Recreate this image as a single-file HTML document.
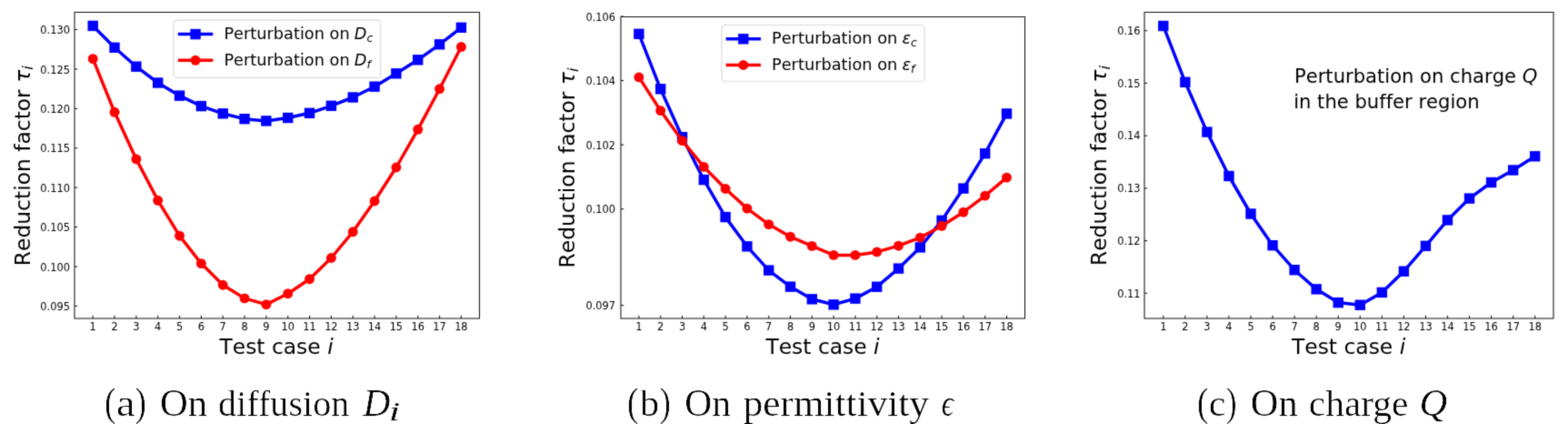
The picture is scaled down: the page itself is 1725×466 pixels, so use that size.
<!DOCTYPE html>
<html><head><meta charset="utf-8"><title>Reduction factor plots</title>
<style>html,body{margin:0;padding:0;background:#fff;}body{width:1725px;height:466px;overflow:hidden;}svg{display:block;}</style>
</head><body>
<svg font-family="'DejaVu Sans', 'Liberation Sans', sans-serif" style="font-variant-ligatures:none;font-kerning:none" width="1725" height="466" viewBox="0 0 1725 466">
<rect x="0" y="0" width="1725" height="466" fill="#ffffff"/>
<defs><filter id="soft" x="0" y="0" width="1725" height="466" filterUnits="userSpaceOnUse" color-interpolation-filters="sRGB"><feConvolveMatrix order="3" kernelMatrix="0.0225 0.1050 0.0225 0.1050 0.4900 0.1050 0.0225 0.1050 0.0225" divisor="1" edgeMode="duplicate"/></filter></defs>
<g filter="url(#soft)">
<g>
<polyline points="102.2,28.4 126.03,52.3 149.87,73.2 173.7,91 197.54,105.15 221.38,116.6 245.21,124.8 269.05,130.7 292.88,132.9 316.72,129.5 340.55,124.3 364.38,116.3 388.22,107 412.06,95.2 435.89,80.8 459.73,65.8 483.56,48.8 507.39,30.3" fill="none" stroke="#0000ff" stroke-width="3.5" stroke-linejoin="round" stroke-linecap="butt"/>
<rect x="96.5" y="22.7" width="11.4" height="11.4" fill="#0000ff"/>
<rect x="120.33" y="46.6" width="11.4" height="11.4" fill="#0000ff"/>
<rect x="144.17" y="67.5" width="11.4" height="11.4" fill="#0000ff"/>
<rect x="168" y="85.3" width="11.4" height="11.4" fill="#0000ff"/>
<rect x="191.84" y="99.45" width="11.4" height="11.4" fill="#0000ff"/>
<rect x="215.68" y="110.9" width="11.4" height="11.4" fill="#0000ff"/>
<rect x="239.51" y="119.1" width="11.4" height="11.4" fill="#0000ff"/>
<rect x="263.35" y="125" width="11.4" height="11.4" fill="#0000ff"/>
<rect x="287.18" y="127.2" width="11.4" height="11.4" fill="#0000ff"/>
<rect x="311.02" y="123.8" width="11.4" height="11.4" fill="#0000ff"/>
<rect x="334.85" y="118.6" width="11.4" height="11.4" fill="#0000ff"/>
<rect x="358.69" y="110.6" width="11.4" height="11.4" fill="#0000ff"/>
<rect x="382.52" y="101.3" width="11.4" height="11.4" fill="#0000ff"/>
<rect x="406.36" y="89.5" width="11.4" height="11.4" fill="#0000ff"/>
<rect x="430.19" y="75.1" width="11.4" height="11.4" fill="#0000ff"/>
<rect x="454.03" y="60.1" width="11.4" height="11.4" fill="#0000ff"/>
<rect x="477.86" y="43.1" width="11.4" height="11.4" fill="#0000ff"/>
<rect x="501.69" y="24.6" width="11.4" height="11.4" fill="#0000ff"/>
<polyline points="102.2,64.7 126.03,123.3 149.87,174.9 173.7,220.3 197.54,259.2 221.38,289.6 245.21,313.25 269.05,327.9 292.88,334.6 316.72,322.7 340.55,306.7 364.38,283.5 388.22,254.8 412.06,221 435.89,184 459.73,142.3 483.56,97.75 507.39,51.55" fill="none" stroke="#ff0000" stroke-width="3.5" stroke-linejoin="round" stroke-linecap="butt"/>
<circle cx="102.2" cy="64.7" r="5.45" fill="#ff0000"/>
<circle cx="126.03" cy="123.3" r="5.45" fill="#ff0000"/>
<circle cx="149.87" cy="174.9" r="5.45" fill="#ff0000"/>
<circle cx="173.7" cy="220.3" r="5.45" fill="#ff0000"/>
<circle cx="197.54" cy="259.2" r="5.45" fill="#ff0000"/>
<circle cx="221.38" cy="289.6" r="5.45" fill="#ff0000"/>
<circle cx="245.21" cy="313.25" r="5.45" fill="#ff0000"/>
<circle cx="269.05" cy="327.9" r="5.45" fill="#ff0000"/>
<circle cx="292.88" cy="334.6" r="5.45" fill="#ff0000"/>
<circle cx="316.72" cy="322.7" r="5.45" fill="#ff0000"/>
<circle cx="340.55" cy="306.7" r="5.45" fill="#ff0000"/>
<circle cx="364.38" cy="283.5" r="5.45" fill="#ff0000"/>
<circle cx="388.22" cy="254.8" r="5.45" fill="#ff0000"/>
<circle cx="412.06" cy="221" r="5.45" fill="#ff0000"/>
<circle cx="435.89" cy="184" r="5.45" fill="#ff0000"/>
<circle cx="459.73" cy="142.3" r="5.45" fill="#ff0000"/>
<circle cx="483.56" cy="97.75" r="5.45" fill="#ff0000"/>
<circle cx="507.39" cy="51.55" r="5.45" fill="#ff0000"/>
<path d="M82 13.5V350H527.5V13.5Z" fill="none" stroke="#111" stroke-width="1.05" stroke-linecap="square"/>
<line x1="102.2" y1="350" x2="102.2" y2="346.8" stroke="#1a1a1a" stroke-width="1.1"/>
<text x="102.2" y="362.7" font-size="11.4" text-anchor="middle" fill="#000000">1</text>
<line x1="126.03" y1="350" x2="126.03" y2="346.8" stroke="#1a1a1a" stroke-width="1.1"/>
<text x="126.03" y="362.7" font-size="11.4" text-anchor="middle" fill="#000000">2</text>
<line x1="149.87" y1="350" x2="149.87" y2="346.8" stroke="#1a1a1a" stroke-width="1.1"/>
<text x="149.87" y="362.7" font-size="11.4" text-anchor="middle" fill="#000000">3</text>
<line x1="173.7" y1="350" x2="173.7" y2="346.8" stroke="#1a1a1a" stroke-width="1.1"/>
<text x="173.7" y="362.7" font-size="11.4" text-anchor="middle" fill="#000000">4</text>
<line x1="197.54" y1="350" x2="197.54" y2="346.8" stroke="#1a1a1a" stroke-width="1.1"/>
<text x="197.54" y="362.7" font-size="11.4" text-anchor="middle" fill="#000000">5</text>
<line x1="221.38" y1="350" x2="221.38" y2="346.8" stroke="#1a1a1a" stroke-width="1.1"/>
<text x="221.38" y="362.7" font-size="11.4" text-anchor="middle" fill="#000000">6</text>
<line x1="245.21" y1="350" x2="245.21" y2="346.8" stroke="#1a1a1a" stroke-width="1.1"/>
<text x="245.21" y="362.7" font-size="11.4" text-anchor="middle" fill="#000000">7</text>
<line x1="269.05" y1="350" x2="269.05" y2="346.8" stroke="#1a1a1a" stroke-width="1.1"/>
<text x="269.05" y="362.7" font-size="11.4" text-anchor="middle" fill="#000000">8</text>
<line x1="292.88" y1="350" x2="292.88" y2="346.8" stroke="#1a1a1a" stroke-width="1.1"/>
<text x="292.88" y="362.7" font-size="11.4" text-anchor="middle" fill="#000000">9</text>
<line x1="316.72" y1="350" x2="316.72" y2="346.8" stroke="#1a1a1a" stroke-width="1.1"/>
<text x="316.72" y="362.7" font-size="11.4" text-anchor="middle" fill="#000000">10</text>
<line x1="340.55" y1="350" x2="340.55" y2="346.8" stroke="#1a1a1a" stroke-width="1.1"/>
<text x="340.55" y="362.7" font-size="11.4" text-anchor="middle" fill="#000000">11</text>
<line x1="364.38" y1="350" x2="364.38" y2="346.8" stroke="#1a1a1a" stroke-width="1.1"/>
<text x="364.38" y="362.7" font-size="11.4" text-anchor="middle" fill="#000000">12</text>
<line x1="388.22" y1="350" x2="388.22" y2="346.8" stroke="#1a1a1a" stroke-width="1.1"/>
<text x="388.22" y="362.7" font-size="11.4" text-anchor="middle" fill="#000000">13</text>
<line x1="412.06" y1="350" x2="412.06" y2="346.8" stroke="#1a1a1a" stroke-width="1.1"/>
<text x="412.06" y="362.7" font-size="11.4" text-anchor="middle" fill="#000000">14</text>
<line x1="435.89" y1="350" x2="435.89" y2="346.8" stroke="#1a1a1a" stroke-width="1.1"/>
<text x="435.89" y="362.7" font-size="11.4" text-anchor="middle" fill="#000000">15</text>
<line x1="459.73" y1="350" x2="459.73" y2="346.8" stroke="#1a1a1a" stroke-width="1.1"/>
<text x="459.73" y="362.7" font-size="11.4" text-anchor="middle" fill="#000000">16</text>
<line x1="483.56" y1="350" x2="483.56" y2="346.8" stroke="#1a1a1a" stroke-width="1.1"/>
<text x="483.56" y="362.7" font-size="11.4" text-anchor="middle" fill="#000000">17</text>
<line x1="507.39" y1="350" x2="507.39" y2="346.8" stroke="#1a1a1a" stroke-width="1.1"/>
<text x="507.39" y="362.7" font-size="11.4" text-anchor="middle" fill="#000000">18</text>
<line x1="82" y1="336.37" x2="85.2" y2="336.37" stroke="#1a1a1a" stroke-width="1.1"/>
<text x="76.9" y="340.97" font-size="11.4" text-anchor="end" fill="#000000">0.095</text>
<line x1="82" y1="292.96" x2="85.2" y2="292.96" stroke="#1a1a1a" stroke-width="1.1"/>
<text x="76.9" y="297.56" font-size="11.4" text-anchor="end" fill="#000000">0.100</text>
<line x1="82" y1="249.55" x2="85.2" y2="249.55" stroke="#1a1a1a" stroke-width="1.1"/>
<text x="76.9" y="254.15" font-size="11.4" text-anchor="end" fill="#000000">0.105</text>
<line x1="82" y1="206.14" x2="85.2" y2="206.14" stroke="#1a1a1a" stroke-width="1.1"/>
<text x="76.9" y="210.74" font-size="11.4" text-anchor="end" fill="#000000">0.110</text>
<line x1="82" y1="162.73" x2="85.2" y2="162.73" stroke="#1a1a1a" stroke-width="1.1"/>
<text x="76.9" y="167.33" font-size="11.4" text-anchor="end" fill="#000000">0.115</text>
<line x1="82" y1="119.32" x2="85.2" y2="119.32" stroke="#1a1a1a" stroke-width="1.1"/>
<text x="76.9" y="123.92" font-size="11.4" text-anchor="end" fill="#000000">0.120</text>
<line x1="82" y1="75.91" x2="85.2" y2="75.91" stroke="#1a1a1a" stroke-width="1.1"/>
<text x="76.9" y="80.51" font-size="11.4" text-anchor="end" fill="#000000">0.125</text>
<line x1="82" y1="32.5" x2="85.2" y2="32.5" stroke="#1a1a1a" stroke-width="1.1"/>
<text x="76.9" y="37.1" font-size="11.4" text-anchor="end" fill="#000000">0.130</text>
<text x="304.05" y="388.8" font-size="23.4" text-anchor="middle" fill="#000">Test case <tspan font-style="italic">i</tspan></text>
<text transform="translate(32.6,182.2) rotate(-90)" font-size="23.4" text-anchor="middle" fill="#000">Reduction factor <tspan font-style="italic">τ</tspan><tspan font-style="italic" font-size="16.38" dy="3.5">i</tspan></text>
<rect x="190.95" y="22.15" width="227.85" height="63.25" rx="3.8" ry="3.8" fill="#ffffff" fill-opacity="0.8" stroke="#d9d9d9" stroke-width="1.2"/>
<line x1="195.8" y1="37.6" x2="234.3" y2="37.6" stroke="#0000ff" stroke-width="3.5"/>
<rect x="209.35" y="31.9" width="11.4" height="11.4" fill="#0000ff"/>
<text x="246.4" y="43.3" font-size="17.75" fill="#000000">Perturbation on <tspan font-style="italic" dx="-0.5">D</tspan><tspan font-style="italic" font-size="12.42" dy="3">c</tspan></text>
<line x1="195.8" y1="66.3" x2="234.3" y2="66.3" stroke="#ff0000" stroke-width="3.5"/>
<circle cx="215.05" cy="66.3" r="5.45" fill="#ff0000"/>
<text x="246.4" y="72" font-size="17.75" fill="#000000">Perturbation on <tspan font-style="italic" dx="-0.5">D</tspan><tspan font-style="italic" font-size="12.42" dy="3">f</tspan></text>
</g>
<g>
<polyline points="702.9,37.3 726.7,97.8 750.5,150.7 774.3,197.6 798.1,238.6 821.9,270.8 845.7,297.1 869.5,315.1 893.3,328.8 917.1,334.8 940.9,328.1 964.7,315.2 988.5,295.1 1012.3,271.9 1036.1,242.3 1059.9,207.1 1083.7,168.7 1107.5,124.9" fill="none" stroke="#0000ff" stroke-width="3.5" stroke-linejoin="round" stroke-linecap="butt"/>
<rect x="697.2" y="31.6" width="11.4" height="11.4" fill="#0000ff"/>
<rect x="721" y="92.1" width="11.4" height="11.4" fill="#0000ff"/>
<rect x="744.8" y="145" width="11.4" height="11.4" fill="#0000ff"/>
<rect x="768.6" y="191.9" width="11.4" height="11.4" fill="#0000ff"/>
<rect x="792.4" y="232.9" width="11.4" height="11.4" fill="#0000ff"/>
<rect x="816.2" y="265.1" width="11.4" height="11.4" fill="#0000ff"/>
<rect x="840" y="291.4" width="11.4" height="11.4" fill="#0000ff"/>
<rect x="863.8" y="309.4" width="11.4" height="11.4" fill="#0000ff"/>
<rect x="887.6" y="323.1" width="11.4" height="11.4" fill="#0000ff"/>
<rect x="911.4" y="329.1" width="11.4" height="11.4" fill="#0000ff"/>
<rect x="935.2" y="322.4" width="11.4" height="11.4" fill="#0000ff"/>
<rect x="959" y="309.5" width="11.4" height="11.4" fill="#0000ff"/>
<rect x="982.8" y="289.4" width="11.4" height="11.4" fill="#0000ff"/>
<rect x="1006.6" y="266.2" width="11.4" height="11.4" fill="#0000ff"/>
<rect x="1030.4" y="236.6" width="11.4" height="11.4" fill="#0000ff"/>
<rect x="1054.2" y="201.4" width="11.4" height="11.4" fill="#0000ff"/>
<rect x="1078" y="163" width="11.4" height="11.4" fill="#0000ff"/>
<rect x="1101.8" y="119.2" width="11.4" height="11.4" fill="#0000ff"/>
<polyline points="702.9,84.9 726.7,121.65 750.5,154.6 774.3,183.4 798.1,207.5 821.9,229.1 845.7,246.6 869.5,260.2 893.3,270.4 917.1,280.4 940.9,280.4 964.7,276.9 988.5,270.1 1012.3,261.1 1036.1,248.3 1059.9,233.2 1083.7,215.1 1107.5,195.1" fill="none" stroke="#ff0000" stroke-width="3.5" stroke-linejoin="round" stroke-linecap="butt"/>
<circle cx="702.9" cy="84.9" r="5.45" fill="#ff0000"/>
<circle cx="726.7" cy="121.65" r="5.45" fill="#ff0000"/>
<circle cx="750.5" cy="154.6" r="5.45" fill="#ff0000"/>
<circle cx="774.3" cy="183.4" r="5.45" fill="#ff0000"/>
<circle cx="798.1" cy="207.5" r="5.45" fill="#ff0000"/>
<circle cx="821.9" cy="229.1" r="5.45" fill="#ff0000"/>
<circle cx="845.7" cy="246.6" r="5.45" fill="#ff0000"/>
<circle cx="869.5" cy="260.2" r="5.45" fill="#ff0000"/>
<circle cx="893.3" cy="270.4" r="5.45" fill="#ff0000"/>
<circle cx="917.1" cy="280.4" r="5.45" fill="#ff0000"/>
<circle cx="940.9" cy="280.4" r="5.45" fill="#ff0000"/>
<circle cx="964.7" cy="276.9" r="5.45" fill="#ff0000"/>
<circle cx="988.5" cy="270.1" r="5.45" fill="#ff0000"/>
<circle cx="1012.3" cy="261.1" r="5.45" fill="#ff0000"/>
<circle cx="1036.1" cy="248.3" r="5.45" fill="#ff0000"/>
<circle cx="1059.9" cy="233.2" r="5.45" fill="#ff0000"/>
<circle cx="1083.7" cy="215.1" r="5.45" fill="#ff0000"/>
<circle cx="1107.5" cy="195.1" r="5.45" fill="#ff0000"/>
<path d="M683 18.4V350H1127.5V18.4Z" fill="none" stroke="#111" stroke-width="1.05" stroke-linecap="square"/>
<line x1="702.9" y1="350" x2="702.9" y2="346.8" stroke="#1a1a1a" stroke-width="1.1"/>
<text x="702.9" y="362.7" font-size="11.4" text-anchor="middle" fill="#000000">1</text>
<line x1="726.7" y1="350" x2="726.7" y2="346.8" stroke="#1a1a1a" stroke-width="1.1"/>
<text x="726.7" y="362.7" font-size="11.4" text-anchor="middle" fill="#000000">2</text>
<line x1="750.5" y1="350" x2="750.5" y2="346.8" stroke="#1a1a1a" stroke-width="1.1"/>
<text x="750.5" y="362.7" font-size="11.4" text-anchor="middle" fill="#000000">3</text>
<line x1="774.3" y1="350" x2="774.3" y2="346.8" stroke="#1a1a1a" stroke-width="1.1"/>
<text x="774.3" y="362.7" font-size="11.4" text-anchor="middle" fill="#000000">4</text>
<line x1="798.1" y1="350" x2="798.1" y2="346.8" stroke="#1a1a1a" stroke-width="1.1"/>
<text x="798.1" y="362.7" font-size="11.4" text-anchor="middle" fill="#000000">5</text>
<line x1="821.9" y1="350" x2="821.9" y2="346.8" stroke="#1a1a1a" stroke-width="1.1"/>
<text x="821.9" y="362.7" font-size="11.4" text-anchor="middle" fill="#000000">6</text>
<line x1="845.7" y1="350" x2="845.7" y2="346.8" stroke="#1a1a1a" stroke-width="1.1"/>
<text x="845.7" y="362.7" font-size="11.4" text-anchor="middle" fill="#000000">7</text>
<line x1="869.5" y1="350" x2="869.5" y2="346.8" stroke="#1a1a1a" stroke-width="1.1"/>
<text x="869.5" y="362.7" font-size="11.4" text-anchor="middle" fill="#000000">8</text>
<line x1="893.3" y1="350" x2="893.3" y2="346.8" stroke="#1a1a1a" stroke-width="1.1"/>
<text x="893.3" y="362.7" font-size="11.4" text-anchor="middle" fill="#000000">9</text>
<line x1="917.1" y1="350" x2="917.1" y2="346.8" stroke="#1a1a1a" stroke-width="1.1"/>
<text x="917.1" y="362.7" font-size="11.4" text-anchor="middle" fill="#000000">10</text>
<line x1="940.9" y1="350" x2="940.9" y2="346.8" stroke="#1a1a1a" stroke-width="1.1"/>
<text x="940.9" y="362.7" font-size="11.4" text-anchor="middle" fill="#000000">11</text>
<line x1="964.7" y1="350" x2="964.7" y2="346.8" stroke="#1a1a1a" stroke-width="1.1"/>
<text x="964.7" y="362.7" font-size="11.4" text-anchor="middle" fill="#000000">12</text>
<line x1="988.5" y1="350" x2="988.5" y2="346.8" stroke="#1a1a1a" stroke-width="1.1"/>
<text x="988.5" y="362.7" font-size="11.4" text-anchor="middle" fill="#000000">13</text>
<line x1="1012.3" y1="350" x2="1012.3" y2="346.8" stroke="#1a1a1a" stroke-width="1.1"/>
<text x="1012.3" y="362.7" font-size="11.4" text-anchor="middle" fill="#000000">14</text>
<line x1="1036.1" y1="350" x2="1036.1" y2="346.8" stroke="#1a1a1a" stroke-width="1.1"/>
<text x="1036.1" y="362.7" font-size="11.4" text-anchor="middle" fill="#000000">15</text>
<line x1="1059.9" y1="350" x2="1059.9" y2="346.8" stroke="#1a1a1a" stroke-width="1.1"/>
<text x="1059.9" y="362.7" font-size="11.4" text-anchor="middle" fill="#000000">16</text>
<line x1="1083.7" y1="350" x2="1083.7" y2="346.8" stroke="#1a1a1a" stroke-width="1.1"/>
<text x="1083.7" y="362.7" font-size="11.4" text-anchor="middle" fill="#000000">17</text>
<line x1="1107.5" y1="350" x2="1107.5" y2="346.8" stroke="#1a1a1a" stroke-width="1.1"/>
<text x="1107.5" y="362.7" font-size="11.4" text-anchor="middle" fill="#000000">18</text>
<line x1="683" y1="335.61" x2="686.2" y2="335.61" stroke="#1a1a1a" stroke-width="1.1"/>
<text x="677" y="340.21" font-size="11.4" text-anchor="end" fill="#000000">0.097</text>
<line x1="683" y1="229.74" x2="686.2" y2="229.74" stroke="#1a1a1a" stroke-width="1.1"/>
<text x="677" y="234.34" font-size="11.4" text-anchor="end" fill="#000000">0.100</text>
<line x1="683" y1="159.16" x2="686.2" y2="159.16" stroke="#1a1a1a" stroke-width="1.1"/>
<text x="677" y="163.76" font-size="11.4" text-anchor="end" fill="#000000">0.102</text>
<line x1="683" y1="88.58" x2="686.2" y2="88.58" stroke="#1a1a1a" stroke-width="1.1"/>
<text x="677" y="93.18" font-size="11.4" text-anchor="end" fill="#000000">0.104</text>
<line x1="683" y1="18" x2="686.2" y2="18" stroke="#1a1a1a" stroke-width="1.1"/>
<text x="677" y="22.6" font-size="11.4" text-anchor="end" fill="#000000">0.106</text>
<text x="905" y="388.7" font-size="23.4" text-anchor="middle" fill="#000">Test case <tspan font-style="italic">i</tspan></text>
<text transform="translate(632.4,184.5) rotate(-90)" font-size="23.4" text-anchor="middle" fill="#000">Reduction factor <tspan font-style="italic">τ</tspan><tspan font-style="italic" font-size="16.38" dy="3.5">i</tspan></text>
<rect x="794" y="27.5" width="223.1" height="62" rx="3.8" ry="3.8" fill="#ffffff" fill-opacity="0.8" stroke="#d9d9d9" stroke-width="1.2"/>
<line x1="798.6" y1="42.8" x2="837" y2="42.8" stroke="#0000ff" stroke-width="3.5"/>
<rect x="812.1" y="37.1" width="11.4" height="11.4" fill="#0000ff"/>
<text x="849" y="48.3" font-size="17.75" fill="#000000">Perturbation on <tspan font-style="italic" dx="-0.5">ε</tspan><tspan font-style="italic" font-size="12.42" dy="3">c</tspan></text>
<line x1="798.6" y1="71.5" x2="837" y2="71.5" stroke="#ff0000" stroke-width="3.5"/>
<circle cx="817.8" cy="71.5" r="5.45" fill="#ff0000"/>
<text x="849" y="77" font-size="17.75" fill="#000000">Perturbation on <tspan font-style="italic" dx="-0.5">ε</tspan><tspan font-style="italic" font-size="12.42" dy="3">f</tspan></text>
</g>
<g>
<polyline points="1279.8,28.5 1303.85,90.3 1327.91,145.1 1351.96,193.5 1376.01,235 1400.07,269.7 1424.12,296.7 1448.17,317.85 1472.22,332.6 1496.28,335.2 1520.33,321.4 1544.38,298.2 1568.44,270.3 1592.49,241.9 1616.54,218.1 1640.6,200.5 1664.65,187 1688.7,171.8" fill="none" stroke="#0000ff" stroke-width="3.5" stroke-linejoin="round" stroke-linecap="butt"/>
<rect x="1274.1" y="22.8" width="11.4" height="11.4" fill="#0000ff"/>
<rect x="1298.15" y="84.6" width="11.4" height="11.4" fill="#0000ff"/>
<rect x="1322.21" y="139.4" width="11.4" height="11.4" fill="#0000ff"/>
<rect x="1346.26" y="187.8" width="11.4" height="11.4" fill="#0000ff"/>
<rect x="1370.31" y="229.3" width="11.4" height="11.4" fill="#0000ff"/>
<rect x="1394.37" y="264" width="11.4" height="11.4" fill="#0000ff"/>
<rect x="1418.42" y="291" width="11.4" height="11.4" fill="#0000ff"/>
<rect x="1442.47" y="312.15" width="11.4" height="11.4" fill="#0000ff"/>
<rect x="1466.52" y="326.9" width="11.4" height="11.4" fill="#0000ff"/>
<rect x="1490.58" y="329.5" width="11.4" height="11.4" fill="#0000ff"/>
<rect x="1514.63" y="315.7" width="11.4" height="11.4" fill="#0000ff"/>
<rect x="1538.68" y="292.5" width="11.4" height="11.4" fill="#0000ff"/>
<rect x="1562.74" y="264.6" width="11.4" height="11.4" fill="#0000ff"/>
<rect x="1586.79" y="236.2" width="11.4" height="11.4" fill="#0000ff"/>
<rect x="1610.84" y="212.4" width="11.4" height="11.4" fill="#0000ff"/>
<rect x="1634.89" y="194.8" width="11.4" height="11.4" fill="#0000ff"/>
<rect x="1658.95" y="181.3" width="11.4" height="11.4" fill="#0000ff"/>
<rect x="1683" y="166.1" width="11.4" height="11.4" fill="#0000ff"/>
<path d="M1259 13.5V350H1709V13.5Z" fill="none" stroke="#111" stroke-width="1.05" stroke-linecap="square"/>
<line x1="1279.8" y1="350" x2="1279.8" y2="346.8" stroke="#1a1a1a" stroke-width="1.1"/>
<text x="1279.8" y="362.7" font-size="11.4" text-anchor="middle" fill="#000000">1</text>
<line x1="1303.85" y1="350" x2="1303.85" y2="346.8" stroke="#1a1a1a" stroke-width="1.1"/>
<text x="1303.85" y="362.7" font-size="11.4" text-anchor="middle" fill="#000000">2</text>
<line x1="1327.91" y1="350" x2="1327.91" y2="346.8" stroke="#1a1a1a" stroke-width="1.1"/>
<text x="1327.91" y="362.7" font-size="11.4" text-anchor="middle" fill="#000000">3</text>
<line x1="1351.96" y1="350" x2="1351.96" y2="346.8" stroke="#1a1a1a" stroke-width="1.1"/>
<text x="1351.96" y="362.7" font-size="11.4" text-anchor="middle" fill="#000000">4</text>
<line x1="1376.01" y1="350" x2="1376.01" y2="346.8" stroke="#1a1a1a" stroke-width="1.1"/>
<text x="1376.01" y="362.7" font-size="11.4" text-anchor="middle" fill="#000000">5</text>
<line x1="1400.07" y1="350" x2="1400.07" y2="346.8" stroke="#1a1a1a" stroke-width="1.1"/>
<text x="1400.07" y="362.7" font-size="11.4" text-anchor="middle" fill="#000000">6</text>
<line x1="1424.12" y1="350" x2="1424.12" y2="346.8" stroke="#1a1a1a" stroke-width="1.1"/>
<text x="1424.12" y="362.7" font-size="11.4" text-anchor="middle" fill="#000000">7</text>
<line x1="1448.17" y1="350" x2="1448.17" y2="346.8" stroke="#1a1a1a" stroke-width="1.1"/>
<text x="1448.17" y="362.7" font-size="11.4" text-anchor="middle" fill="#000000">8</text>
<line x1="1472.22" y1="350" x2="1472.22" y2="346.8" stroke="#1a1a1a" stroke-width="1.1"/>
<text x="1472.22" y="362.7" font-size="11.4" text-anchor="middle" fill="#000000">9</text>
<line x1="1496.28" y1="350" x2="1496.28" y2="346.8" stroke="#1a1a1a" stroke-width="1.1"/>
<text x="1496.28" y="362.7" font-size="11.4" text-anchor="middle" fill="#000000">10</text>
<line x1="1520.33" y1="350" x2="1520.33" y2="346.8" stroke="#1a1a1a" stroke-width="1.1"/>
<text x="1520.33" y="362.7" font-size="11.4" text-anchor="middle" fill="#000000">11</text>
<line x1="1544.38" y1="350" x2="1544.38" y2="346.8" stroke="#1a1a1a" stroke-width="1.1"/>
<text x="1544.38" y="362.7" font-size="11.4" text-anchor="middle" fill="#000000">12</text>
<line x1="1568.44" y1="350" x2="1568.44" y2="346.8" stroke="#1a1a1a" stroke-width="1.1"/>
<text x="1568.44" y="362.7" font-size="11.4" text-anchor="middle" fill="#000000">13</text>
<line x1="1592.49" y1="350" x2="1592.49" y2="346.8" stroke="#1a1a1a" stroke-width="1.1"/>
<text x="1592.49" y="362.7" font-size="11.4" text-anchor="middle" fill="#000000">14</text>
<line x1="1616.54" y1="350" x2="1616.54" y2="346.8" stroke="#1a1a1a" stroke-width="1.1"/>
<text x="1616.54" y="362.7" font-size="11.4" text-anchor="middle" fill="#000000">15</text>
<line x1="1640.6" y1="350" x2="1640.6" y2="346.8" stroke="#1a1a1a" stroke-width="1.1"/>
<text x="1640.6" y="362.7" font-size="11.4" text-anchor="middle" fill="#000000">16</text>
<line x1="1664.65" y1="350" x2="1664.65" y2="346.8" stroke="#1a1a1a" stroke-width="1.1"/>
<text x="1664.65" y="362.7" font-size="11.4" text-anchor="middle" fill="#000000">17</text>
<line x1="1688.7" y1="350" x2="1688.7" y2="346.8" stroke="#1a1a1a" stroke-width="1.1"/>
<text x="1688.7" y="362.7" font-size="11.4" text-anchor="middle" fill="#000000">18</text>
<line x1="1259" y1="322.3" x2="1262.2" y2="322.3" stroke="#1a1a1a" stroke-width="1.1"/>
<text x="1254.6" y="326.65" font-size="11.4" text-anchor="end" fill="#000000">0.11</text>
<line x1="1259" y1="264.58" x2="1262.2" y2="264.58" stroke="#1a1a1a" stroke-width="1.1"/>
<text x="1254.6" y="268.93" font-size="11.4" text-anchor="end" fill="#000000">0.12</text>
<line x1="1259" y1="206.86" x2="1262.2" y2="206.86" stroke="#1a1a1a" stroke-width="1.1"/>
<text x="1254.6" y="211.21" font-size="11.4" text-anchor="end" fill="#000000">0.13</text>
<line x1="1259" y1="149.14" x2="1262.2" y2="149.14" stroke="#1a1a1a" stroke-width="1.1"/>
<text x="1254.6" y="153.49" font-size="11.4" text-anchor="end" fill="#000000">0.14</text>
<line x1="1259" y1="91.42" x2="1262.2" y2="91.42" stroke="#1a1a1a" stroke-width="1.1"/>
<text x="1254.6" y="95.77" font-size="11.4" text-anchor="end" fill="#000000">0.15</text>
<line x1="1259" y1="33.7" x2="1262.2" y2="33.7" stroke="#1a1a1a" stroke-width="1.1"/>
<text x="1254.6" y="38.05" font-size="11.4" text-anchor="end" fill="#000000">0.16</text>
<text x="1483.6" y="388.6" font-size="23.4" text-anchor="middle" fill="#000">Test case <tspan font-style="italic">i</tspan></text>
<text transform="translate(1217,182.05) rotate(-90)" font-size="23.4" text-anchor="middle" fill="#000">Reduction factor <tspan font-style="italic">τ</tspan><tspan font-style="italic" font-size="16.38" dy="3.5">i</tspan></text>
</g>
<text x="1424.0" y="91.0" font-size="21.1" fill="#000000">Perturbation on charge <tspan font-style="italic">Q</tspan></text>
<text x="1423.2" y="118.6" font-size="21.1" fill="#000000">in the buffer region</text>
<defs><filter id="thin" x="0" y="0" width="1" height="1" color-interpolation-filters="sRGB"><feComponentTransfer><feFuncA type="linear" slope="1.8" intercept="-0.8"/></feComponentTransfer></filter></defs>
<g filter="url(#thin)" style="font-variant-ligatures:normal;font-kerning:normal">
<text transform="translate(115.04,457.4) scale(0.9231,1.085)" font-family="'Liberation Serif', 'DejaVu Serif', serif" font-size="40.5" font-style="normal" fill="#000">(</text>
<text transform="translate(128.1,456.5) scale(1.1438,1.000)" font-family="'Liberation Serif', 'DejaVu Serif', serif" font-size="40.5" font-style="normal" fill="#000">a</text>
<text transform="translate(148.82,457.4) scale(0.9038,1.085)" font-family="'Liberation Serif', 'DejaVu Serif', serif" font-size="40.5" font-style="normal" fill="#000">)</text>
<text transform="translate(176.11,456.8) scale(1.0508,1.030)" font-family="'Liberation Serif', 'DejaVu Serif', serif" font-size="40.5" font-style="normal" fill="#000">On</text>
<text transform="translate(240.11,456.5) scale(0.9916,1.000)" font-family="'Liberation Serif', 'DejaVu Serif', serif" font-size="40.5" font-style="normal" fill="#000">diffusion</text>
<text transform="translate(399.51,456.8) scale(1.0207,1.030)" font-family="'Liberation Serif', 'DejaVu Serif', serif" font-size="40.5" font-style="italic" fill="#000">D</text>
<text transform="translate(427.54,462.4) scale(1.6053,1.000)" font-family="'Liberation Serif', 'DejaVu Serif', serif" font-size="29.16" font-style="italic" fill="#000">i</text>
<text transform="translate(690.04,457.4) scale(0.9231,1.085)" font-family="'Liberation Serif', 'DejaVu Serif', serif" font-size="40.5" font-style="normal" fill="#000">(</text>
<text transform="translate(704.2,456.5) scale(1.0321,1.000)" font-family="'Liberation Serif', 'DejaVu Serif', serif" font-size="40.5" font-style="normal" fill="#000">b</text>
<text transform="translate(725.84,457.4) scale(0.8942,1.085)" font-family="'Liberation Serif', 'DejaVu Serif', serif" font-size="40.5" font-style="normal" fill="#000">)</text>
<text transform="translate(753.36,456.8) scale(1.0254,1.030)" font-family="'Liberation Serif', 'DejaVu Serif', serif" font-size="40.5" font-style="normal" fill="#000">On</text>
<text transform="translate(817.65,456.5) scale(1.0688,1.000)" font-family="'Liberation Serif', 'DejaVu Serif', serif" font-size="40.5" font-style="normal" fill="#000">permittivity</text>
<text transform="translate(1035.72,456.5) scale(0.8171,1.000)" font-family="'Liberation Serif', 'DejaVu Serif', serif" font-size="40.5" font-style="italic" fill="#000">ϵ</text>
<text transform="translate(1317.04,457.4) scale(0.9231,1.085)" font-family="'Liberation Serif', 'DejaVu Serif', serif" font-size="40.5" font-style="normal" fill="#000">(</text>
<text transform="translate(1329.64,456.5) scale(1.0395,1.000)" font-family="'Liberation Serif', 'DejaVu Serif', serif" font-size="40.5" font-style="normal" fill="#000">c</text>
<text transform="translate(1348.89,457.4) scale(0.8558,1.085)" font-family="'Liberation Serif', 'DejaVu Serif', serif" font-size="40.5" font-style="normal" fill="#000">)</text>
<text transform="translate(1375.82,456.8) scale(1.0466,1.030)" font-family="'Liberation Serif', 'DejaVu Serif', serif" font-size="40.5" font-style="normal" fill="#000">On</text>
<text transform="translate(1439.76,456.5) scale(1.0240,1.000)" font-family="'Liberation Serif', 'DejaVu Serif', serif" font-size="40.5" font-style="normal" fill="#000">charge</text>
<text transform="translate(1561.59,456.8) scale(1.0494,1.030)" font-family="'Liberation Serif', 'DejaVu Serif', serif" font-size="40.5" font-style="italic" fill="#000">Q</text>
</g>
</g>
</svg>
</body></html>
